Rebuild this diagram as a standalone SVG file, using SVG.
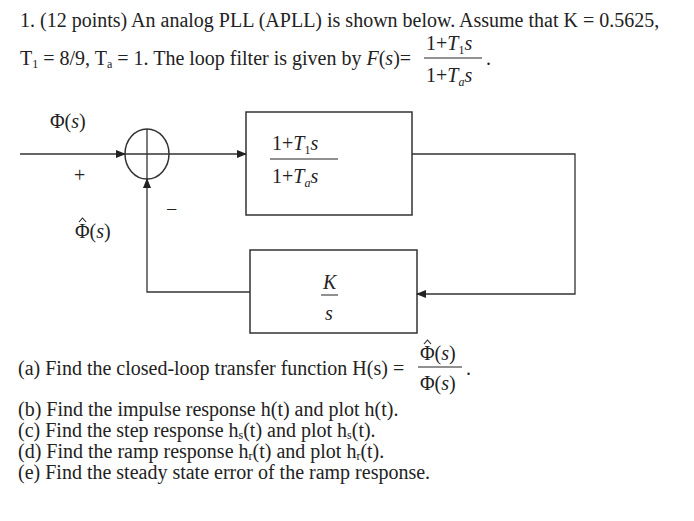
<svg xmlns="http://www.w3.org/2000/svg" width="694" height="521" viewBox="0 0 694 521">
<style>
text{font-family:"Liberation Serif",serif;font-size:20px;fill:#222}
.i{font-style:italic}
.sb{font-size:12px}
.ln{stroke:#333;stroke-width:1.3;fill:none}
.bx{stroke:#333;stroke-width:1.5;fill:none}
.hat{stroke:#222;stroke-width:1.1;fill:none}
</style>
<defs><marker id="a" markerWidth="10" markerHeight="8" refX="9" refY="4" orient="auto" markerUnits="userSpaceOnUse"><path d="M0,0 L10,4 L0,8Z" fill="#222"/></marker></defs>
<rect width="694" height="521" fill="#fff"/>
<g id="header">
<text x="20" y="27">1. (12 points) An analog PLL (APLL) is shown below.  Assume that K = 0.5625,</text>
<text x="20" y="65">T<tspan class="sb" baseline-shift="-3">1</tspan> = 8/9, T<tspan class="sb" baseline-shift="-3">a</tspan> = 1.  The loop filter is given by <tspan class="i">F</tspan>(<tspan class="i">s</tspan>)=</text>
<text x="426" y="50" font-size="21">1+<tspan class="i">T</tspan><tspan class="sb" baseline-shift="-4">1</tspan><tspan class="i">s</tspan></text>
<line x1="424" y1="58" x2="482" y2="58" stroke="#222" stroke-width="1"/>
<text x="426" y="82" font-size="21">1+<tspan class="i">T</tspan><tspan class="sb i" baseline-shift="-4">a</tspan><tspan class="i">s</tspan></text>
<text x="486" y="65">.</text>
</g>
<g id="sum"><ellipse cx="147" cy="154" rx="22" ry="25" class="bx"/><line x1="147" y1="129" x2="147" y2="179" class="ln"/><line x1="125" y1="154" x2="169" y2="154" class="ln"/></g>
<g id="filter"><rect x="246" y="112" width="166" height="103" class="bx"/>
<text x="272" y="150" font-size="21">1+<tspan class="i">T</tspan><tspan class="sb" baseline-shift="-4">1</tspan><tspan class="i">s</tspan></text>
<line x1="270" y1="159" x2="338" y2="159" stroke="#222" stroke-width="1"/>
<text x="272" y="183" font-size="21">1+<tspan class="i">T</tspan><tspan class="sb i" baseline-shift="-4">a</tspan><tspan class="i">s</tspan></text></g>
<g id="vco"><rect x="250" y="250" width="167" height="83" class="bx"/>
<text x="323" y="289" class="i">K</text><line x1="321" y1="295" x2="338" y2="295" stroke="#222" stroke-width="1"/>
<text x="325" y="320" class="i">s</text></g>
<g id="labels">
<text x="50" y="128">Φ(<tspan class="i">s</tspan>)</text>
<text x="74" y="182" font-size="15">+</text>
<text x="75" y="238">Φ(<tspan class="i">s</tspan>)</text><path class="hat" d="M79,222 L82.5,218 L86,222"/>
<text x="166" y="216" font-size="15">−</text>
</g>
<g id="connectors">
<line x1="20" y1="154" x2="125" y2="154" class="ln" marker-end="url(#a)"/>
<line x1="169" y1="154" x2="246" y2="154" class="ln" marker-end="url(#a)"/>
<polyline points="412,154 575,154 575,294 417,294" class="ln" marker-end="url(#a)"/>
<polyline points="250,292 147,292 147,179" class="ln" marker-end="url(#a)"/>
</g>
<g id="questions">
<text x="18" y="375">(a) Find the closed-loop transfer function H(s) =</text>
<text x="420" y="360">Φ(<tspan class="i">s</tspan>)</text><path class="hat" d="M424,344 L427.5,340 L431,344"/>
<line x1="418" y1="367" x2="462" y2="367" stroke="#222" stroke-width="1"/>
<text x="420" y="390">Φ(<tspan class="i">s</tspan>)</text>
<text x="466" y="375">.</text>
<text x="18" y="416">(b) Find the impulse response h(t) and plot h(t).</text>
<text x="18" y="437">(c) Find the step response h<tspan class="sb" baseline-shift="-2">s</tspan>(t) and plot h<tspan class="sb" baseline-shift="-2">s</tspan>(t).</text>
<text x="18" y="458">(d) Find the ramp response h<tspan class="sb" baseline-shift="-2">r</tspan>(t) and plot h<tspan class="sb" baseline-shift="-2">r</tspan>(t).</text>
<text x="18" y="479">(e) Find the steady state error of the ramp response.</text>
</g>
</svg>
